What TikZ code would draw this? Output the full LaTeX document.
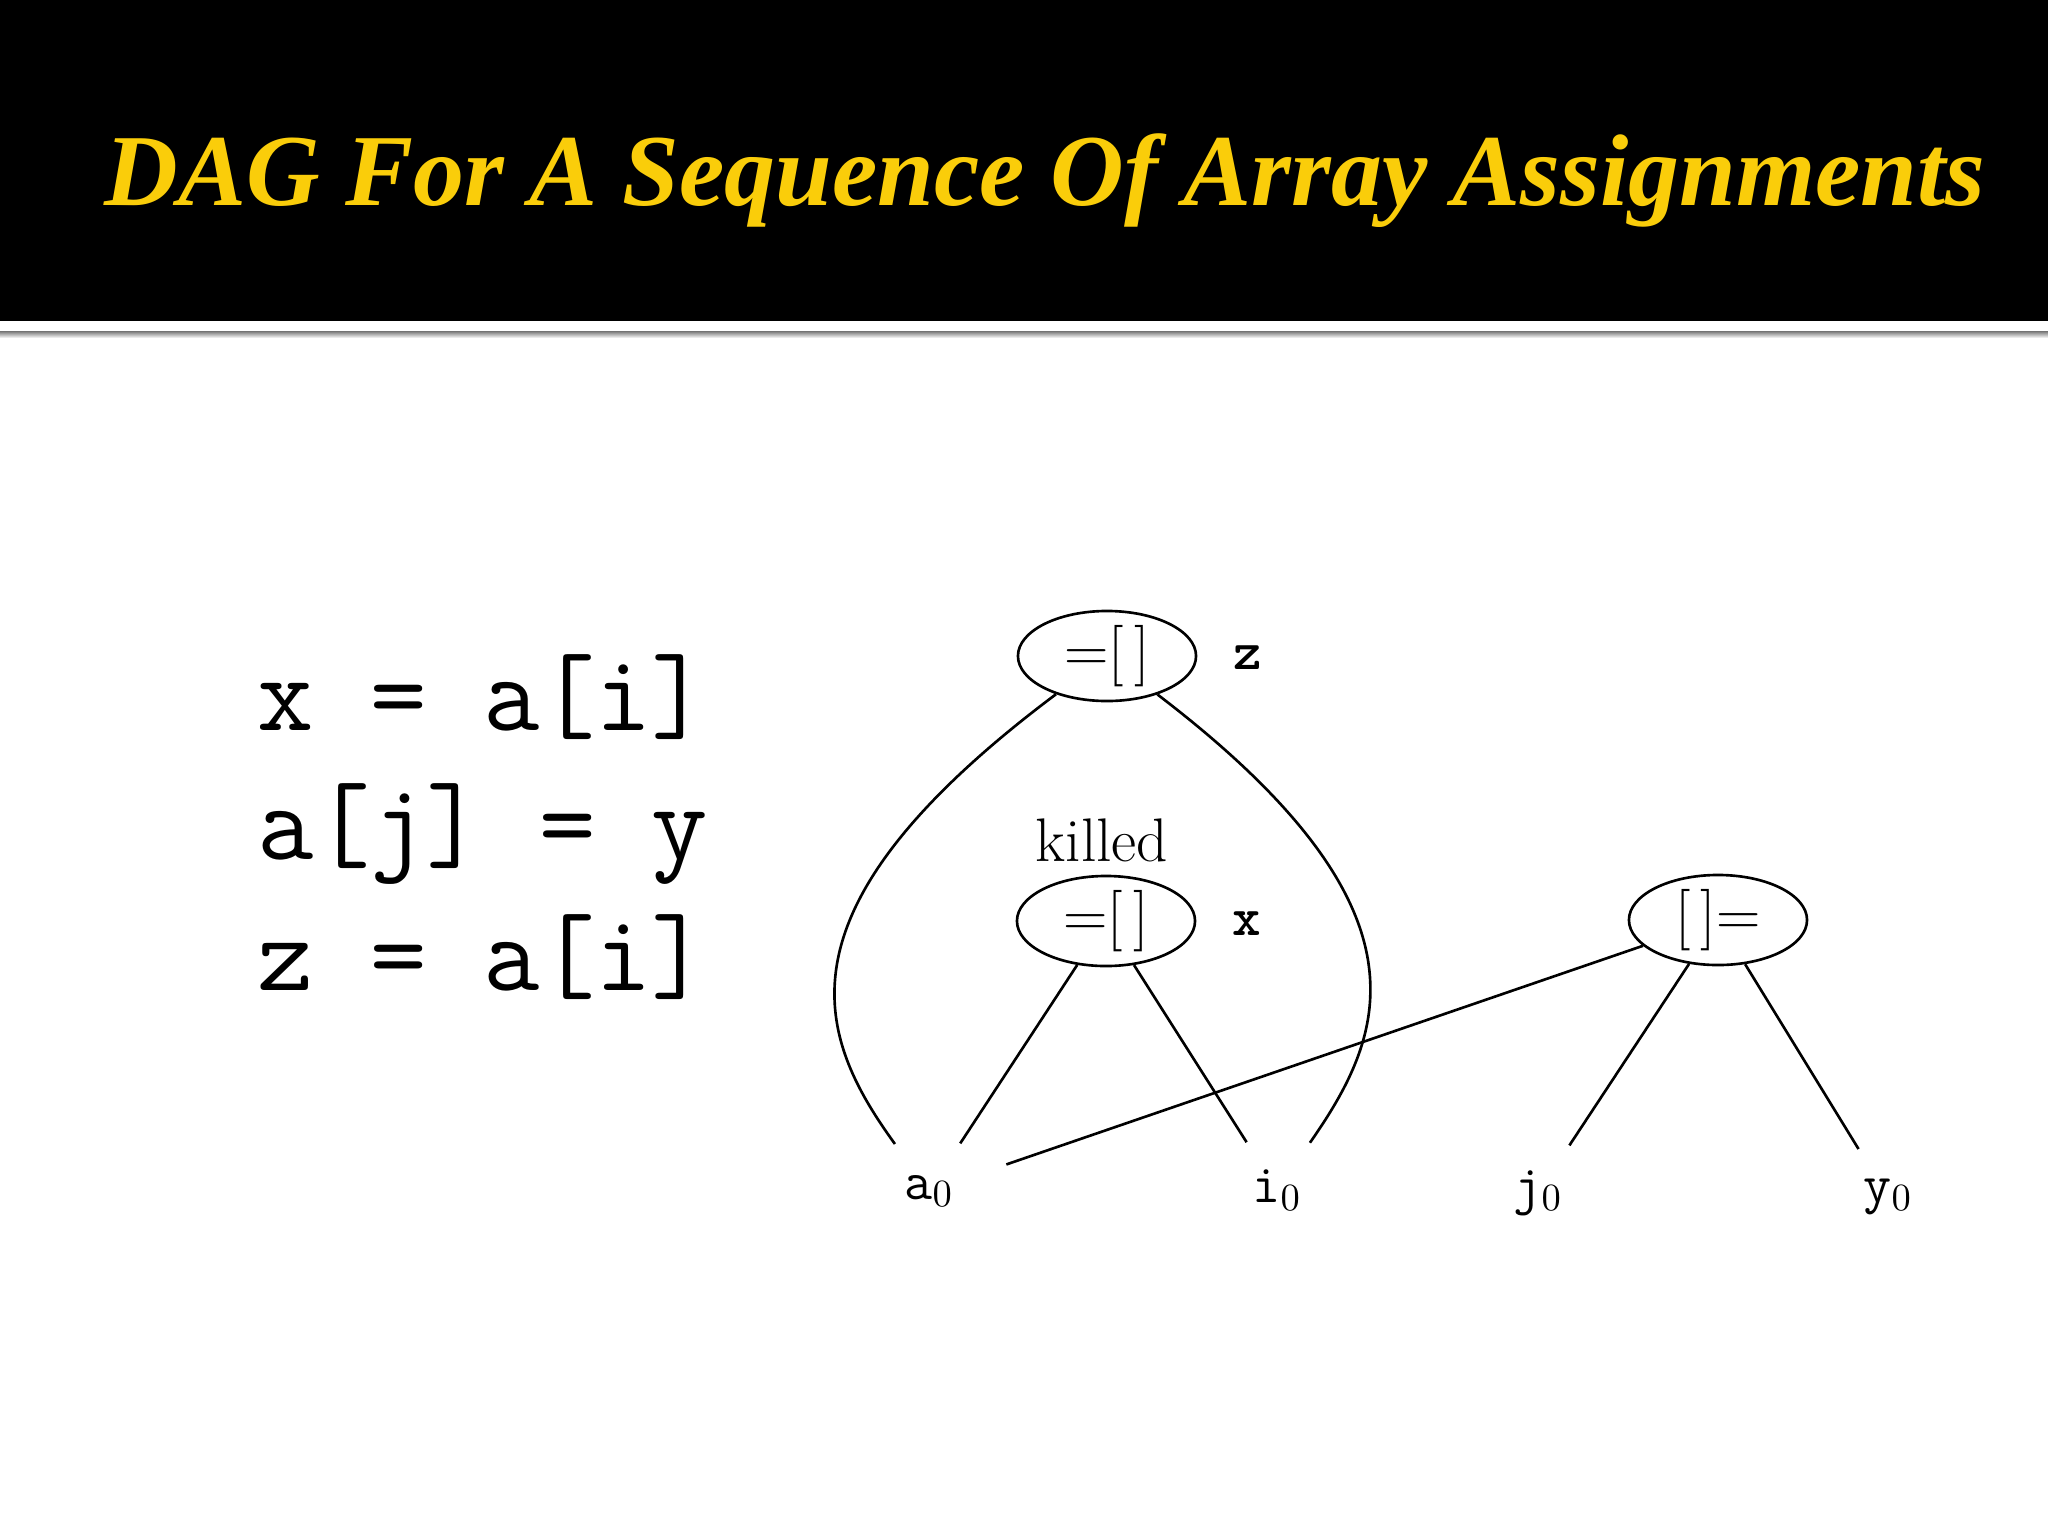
\documentclass[tikz,border=0pt]{standalone}
\usepackage{fontspec}
\usepackage{xcolor}
\usepackage{tikz}
\usetikzlibrary{shapes.geometric}
\newfontfamily\titlefont{Liberation Serif}
\definecolor{titlegold}{RGB}{250,205,10}

\begin{document}
\begin{tikzpicture}[x=0.01cm, y=-0.01cm]
\tikzstyle{op} = [draw, shape=ellipse, line width=.75pt, inner sep=0pt, minimum width=1.78cm, minimum height=.9cm, font=\fontsize{17.5}{20}\selectfont]
\tikzstyle{leaf} = [shape=ellipse, inner sep=0pt, minimum width=1.8cm, minimum height=1cm, font=\fontsize{15.5}{18}\selectfont\ttfamily]
\tikzstyle{var} = [inner sep=0pt, font=\fontsize{15.5}{18}\selectfont\ttfamily\bfseries]
\tikzstyle{stmt} = [anchor=base west, inner sep=0pt, font=\fontsize{31.1}{36}\selectfont\ttfamily]
\tikzstyle{edge} = [line width=.75pt]
  \useasboundingbox (0,0) rectangle (2048,1536);
  % slide header
  \fill[black] (0,0) rectangle (2048,321);
  \shade[top color=black!55, bottom color=black!8] (0,331) rectangle (2048,337);
  \node (title) [anchor=base, inner sep=0pt, text=titlegold, font=\titlefont\bfseries\itshape\fontsize{29}{34}\selectfont] at (1045,205) {DAG For A Sequence Of Array Assignments};

  % the three statements
  \draw
  node (s1) [stmt] at (257,730) {x = a[i]}
  node (s2) [stmt] at (257,859) {a[j] = y}
  node (s3) [stmt] at (257,990) {z = a[i]};

  % dag
  \draw
  node (zload) [op] at (1107,656) {=[\,]}
  node (xload) [op] at (1106,921) {=[\,]}
  node (store) [op] at (1718,920) {[\,]=}
  node (zname) [var] at (1248,658) {z}
  node (xname) [var] at (1247,924) {x}
  node (killed) [anchor=base, inner sep=0pt, font=\fontsize{17.5}{20}\selectfont] at (1102,861) {killed}

  node (a0) [leaf] at (929,1191) {a$_0$}
  node (i0) [leaf] at (1277,1190) {i$_0$}
  node (j0) [leaf] at (1538,1193) {j$_0$}
  node (y0) [leaf] at (1888,1197) {y$_0$};

  \draw [edge] (xload) -- (a0);
  \draw [edge] (xload) -- (i0);
  \draw [edge] (store) -- (a0);
  \draw [edge] (store) -- (j0);
  \draw [edge] (store) -- (y0);
  \draw [edge] (zload) .. controls (768,910) and (816,1035) .. (a0);
  \draw [edge] (zload) .. controls (1440,910) and (1385,1035) .. (i0);
\end{tikzpicture}
\end{document}
